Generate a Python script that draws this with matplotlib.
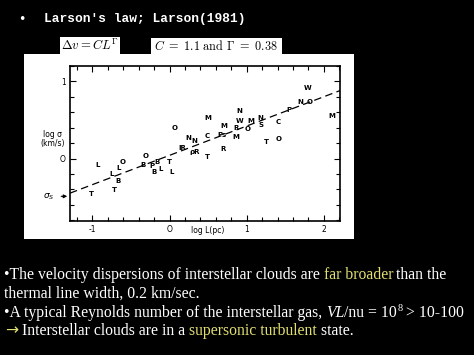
import numpy as np
import matplotlib.pyplot as plt
from matplotlib.patches import Rectangle
from matplotlib.transforms import IdentityTransform

# Larson (1981) size - linewidth data
labels = ["T", "L", "L", "L", "O", "B", "T", "O", "B", "P", "B", "B", "L", "T", "L",
          "O", "IR", "N", "N", "ρR", "M", "C", "T", "M", "Ps", "R", "M", "R",
          "N", "W", "O", "M", "N", "S", "C", "T", "O", "P", "N", "O", "W", "M"]
log_L = [-1.01, -0.93, -0.75, -0.66, -0.61, -0.67, -0.71, -0.31, -0.34, -0.23, -0.20, -0.16, -0.11, -0.005, 0.03,
         0.07, 0.16, 0.25, 0.32, 0.33, 0.49, 0.49, 0.49, 0.70, 0.68, 0.70, 0.86, 0.86,
         0.91, 0.91, 1.01, 1.05, 1.18, 1.18, 1.41, 1.25, 1.41, 1.55, 1.70, 1.81, 1.79, 2.11]
log_sigma = [-0.46, -0.08, -0.20, -0.12, -0.04, -0.29, -0.41, 0.03, -0.09, -0.10, -0.18, -0.05, -0.13, -0.04, -0.17,
             0.39, 0.14, 0.27, 0.23, 0.09, 0.52, 0.29, 0.02, 0.42, 0.31, 0.13, 0.28, 0.40,
             0.62, 0.49, 0.38, 0.49, 0.53, 0.44, 0.47, 0.21, 0.25, 0.63, 0.73, 0.73, 0.92, 0.55]

C = 1.1
Gamma = 0.38
sigma_s = -0.49

plt.rcParams['mathtext.fontset'] = 'custom'
plt.rcParams['mathtext.rm'] = 'Liberation Serif'
plt.rcParams['mathtext.it'] = 'Liberation Serif:italic'

W, H = 474, 355
fig = plt.figure(figsize=(W / 100, H / 100), dpi=100, facecolor='black')

def fx(px):
    return px / W

def fy(py):
    return 1 - py / H

# white panel behind the scanned plot
fig.patches.append(Rectangle((fx(24), fy(239)), fx(330), (239 - 54) / H,
                             transform=fig.transFigure, facecolor='white', edgecolor='none', zorder=-5))
# formula boxes
fig.patches.append(Rectangle((fx(60), fy(54)), fx(60), 17 / H,
                             transform=fig.transFigure, facecolor='white', edgecolor='none', zorder=-5))
fig.patches.append(Rectangle((fx(151), fy(54)), fx(131), 16 / H,
                             transform=fig.transFigure, facecolor='white', edgecolor='none', zorder=-5))
fig.text(fx(89.5), fy(45), r'$\Delta v = CL^{\Gamma}$', math_fontfamily='cm', fontsize=9.2,
         ha='center', va='center', color='black')
fig.text(fx(154), fy(46), r'$C\ =\ 1.1\ \mathrm{and}\ \Gamma\ =\ 0.38$', math_fontfamily='cm', fontsize=8.8,
         ha='left', va='center', color='black')

# title
fig.text(fx(22), fy(19), '•', color='white', fontsize=9, ha='center', va='center')
fig.text(fx(44), fy(19), "Larson's law; Larson(1981)", color='white', fontsize=9.25,
         family='Liberation Mono', weight='bold', ha='left', va='center')

# scanned plot
ax = fig.add_axes([fx(70), fy(221), fx(270), 155 / H])
ax.set_facecolor('white')
for lab, x, y in zip(labels, log_L, log_sigma):
    ax.text(x, y, lab, fontsize=5, weight='bold', ha='center', va='center', color='black')

xl = np.array([-1.29, 2.21])
ax.plot(xl, np.log10(C) + Gamma * xl, color='black', lw=0.9, dashes=(6, 3.5))
ax.set_xlim(-1.29, 2.21)
ax.set_ylim(-0.81, 1.2)
ax.set_xticks([-1, 0, 1, 2])
ax.set_xticklabels(['-1', 'O', '1', '2'])
ax.set_xticks(np.arange(-1.2, 2.21, 0.2), minor=True)
ax.set_yticks([0, 1])
ax.set_yticklabels(['O', '1'])
ax.set_yticks(np.arange(-0.8, 1.21, 0.2), minor=True)
ax.tick_params(which='both', direction='in', top=True, right=True, labelsize=5.5, pad=3, width=0.8)
ax.tick_params(which='major', length=4)
ax.tick_params(which='minor', length=3)
for sp in ax.spines.values():
    sp.set_linewidth(1.2)

ax.text(-1.52, 0.31, 'log σ', fontsize=5.5, ha='center', va='center', clip_on=False)
ax.text(-1.52, 0.20, '(km/s)', fontsize=5.5, ha='center', va='center', clip_on=False)
ax.text(0.49, -0.93, 'log L(pc)', fontsize=5.5, ha='center', va='center', clip_on=False)
ax.annotate('', xy=(-1.29, sigma_s), xytext=(-1.44, sigma_s),
            arrowprops=dict(arrowstyle='-|>', color='black', lw=0.8, mutation_scale=5),
            annotation_clip=False)
ax.text(-1.56, sigma_s - 0.01, r'$\sigma_S$', math_fontfamily='dejavusans', fontsize=6.5,
        ha='center', va='center', clip_on=False)

# bullet text below the plot, drawn run by run for the coloured words
renderer = fig.canvas.get_renderer()
yellow = '#e0df72'

def seg_width(s, **kw):
    t1 = fig.text(0, 0, s + '.', transform=IdentityTransform(), **kw)
    t2 = fig.text(0, 0, '.', transform=IdentityTransform(), **kw)
    w = t1.get_window_extent(renderer).width - t2.get_window_extent(renderer).width
    t1.remove()
    t2.remove()
    return w

def draw_line(px, py, runs, size=11.3):
    x = px
    y = H - py
    for s, color, style, dy, sz, fam in runs:
        kw = dict(fontsize=size * sz, family=fam, style=style)
        fig.text(x, y + dy, s, color=color, va='baseline', transform=IdentityTransform(), **kw)
        x += seg_width(s, **kw)

serif = 'Liberation Serif'
draw_line(4, 279, [("•The velocity dispersions of interstellar clouds are ", 'white', 'normal', 0, 1, serif),
                   ("far broader", yellow, 'normal', 0, 1, serif),
                   (" than the", 'white', 'normal', 0, 1, serif)])
draw_line(4, 298, [("thermal line width, 0.2 km/sec.", 'white', 'normal', 0, 1, serif)])
draw_line(4, 317, [("•A typical Reynolds number of the interstellar gas, ", 'white', 'normal', 0, 1, serif),
                   ("VL", 'white', 'italic', 0, 1, serif),
                   ("/nu = 10", 'white', 'normal', 0, 1, serif),
                   ("8", 'white', 'normal', 6, 0.65, serif),
                   (" > 10-100", 'white', 'normal', 0, 1, serif)])
draw_line(5, 335, [("→", yellow, 'normal', 0, 1.0, 'DejaVu Sans'),
                   (" Interstellar clouds are in a ", 'white', 'normal', 0, 1, serif),
                   ("supersonic turbulent", yellow, 'normal', 0, 1, serif),
                   (" state.", 'white', 'normal', 0, 1, serif)])

fig.savefig('out.png', dpi=100, facecolor='black')
